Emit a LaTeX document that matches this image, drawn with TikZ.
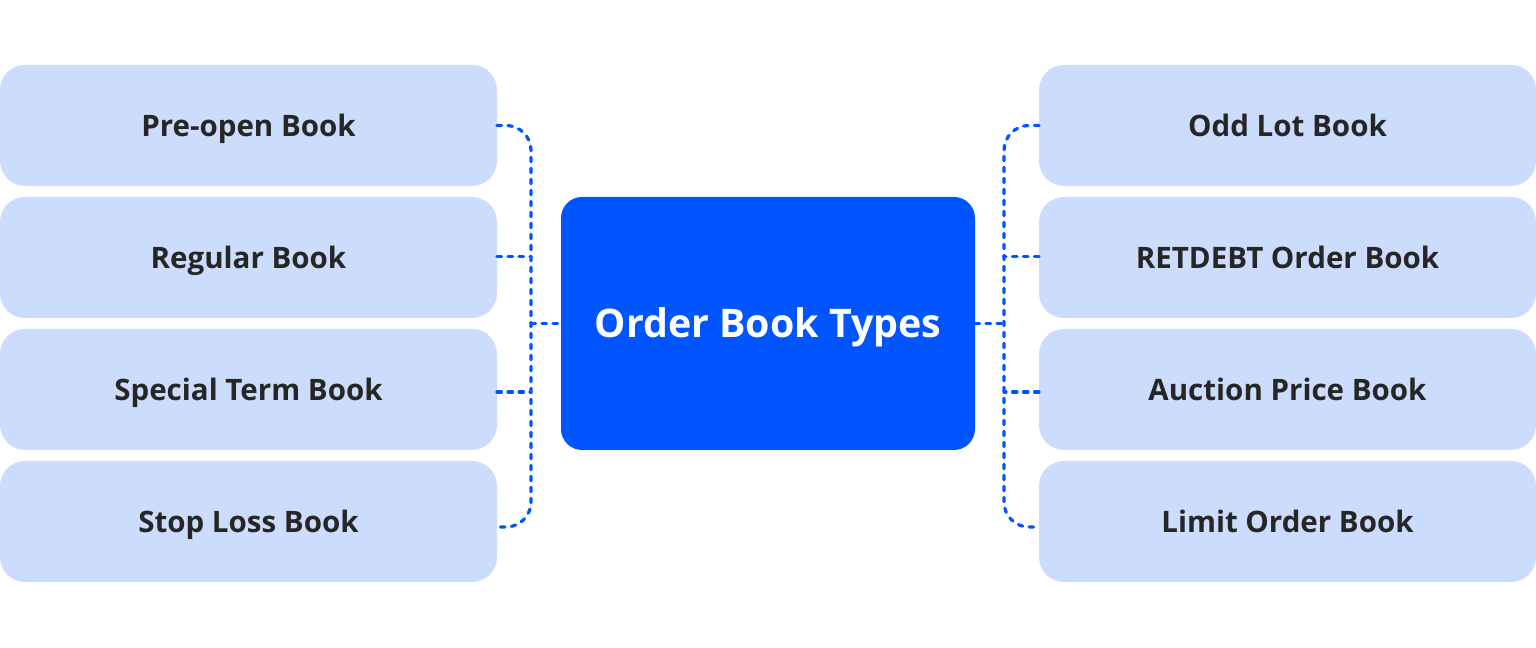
\documentclass[tikz,border=0pt]{standalone}
\usepackage{fontspec}
\setmainfont{Open Sans}
\usepackage{xcolor}
\usetikzlibrary{positioning}

\definecolor{bookfill}{HTML}{CCDCFC}
\definecolor{hubblue}{HTML}{0055FE}
\definecolor{booktext}{HTML}{262626}

\begin{document}
\begin{tikzpicture}[
  node distance=0.11cm,
  book/.style={fill=bookfill, rounded corners=0.25cm, align=center, text=booktext, font=\fontsize{8.4}{10}\selectfont\bfseries, minimum width=4.97cm, minimum height=1.21cm, inner sep=0pt, outer sep=0pt, text height=6pt, text depth=0pt},
  hub/.style={fill=hubblue, rounded corners=0.21cm, align=center, text=white, font=\fontsize{11.2}{13}\selectfont\bfseries, minimum width=4.14cm, minimum height=2.53cm, inner sep=0pt, outer sep=0pt, text height=8pt, text depth=0pt},
  link/.style={draw=hubblue, line width=0.032cm, line cap=round, dash pattern=on 0.045cm off 0.065cm, rounded corners=0.25cm}
]
\useasboundingbox (0,0) rectangle (15.36,6.48);
% left column
\node[book] (l1) at (2.485,5.225) {Pre-open Book};
\node[book, below=of l1] (l2) {Regular Book};
\node[book, below=of l2] (l3) {Special Term Book};
\node[book, below=of l3] (l4) {Stop Loss Book};
% right column
\node[book] (r1) at (12.875,5.225) {Odd Lot Book};
\node[book, below=of r1] (r2) {RETDEBT Order Book};
\node[book, below=of r2] (r3) {Auction Price Book};
\node[book, below=of r3] (r4) {Limit Order Book};
% centre
\node[hub] (hub) at (7.68,3.245) {Order Book Types};
\coordinate (lx) at (5.31,0);
\coordinate (rx) at (10.04,0);
% connectors
\draw[link] (l1.east) -| (lx |- l2.east) |- ([yshift=-0.055cm]l4.east);
\draw[link] ([yshift=0.01cm]l2.east) -- ([yshift=0.01cm]lx |- l2.east);
\draw[link] ([yshift=-0.025cm]l3.east) -- ([yshift=-0.025cm]lx |- l3.east);
\draw[link] (lx |- hub.west) -- (hub.west);
\draw[link] (r1.west) -| (rx |- r2.west) |- ([yshift=-0.055cm]r4.west);
\draw[link] ([yshift=0.01cm]r2.west) -- ([yshift=0.01cm]rx |- r2.west);
\draw[link] ([yshift=-0.025cm]r3.west) -- ([yshift=-0.025cm]rx |- r3.west);
\draw[link] (hub.east) -- (rx |- hub.east);
\end{tikzpicture}
\end{document}
